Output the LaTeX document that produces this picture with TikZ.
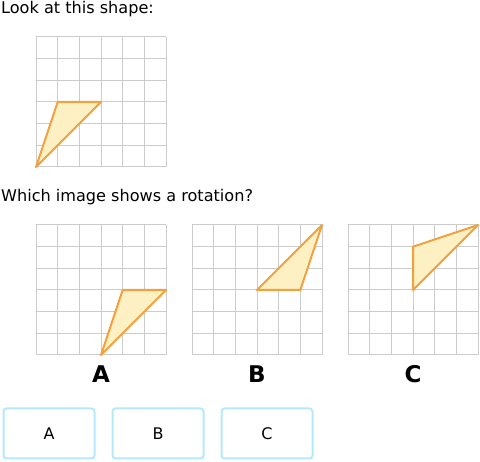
\documentclass[tikz,border=0pt]{standalone}
\usepackage{fontspec}
\setmainfont{DejaVu Sans}
\definecolor{gridgray}{HTML}{CCCCCC}
\definecolor{triedge}{HTML}{F5A03C}
\definecolor{trifill}{HTML}{FDF0C2}
\definecolor{btnblue}{HTML}{B3EAFB}
\tikzset{
  gridline/.style={draw=gridgray, line width=1pt},
  tri/.style={draw=triedge, fill=trifill, line width=2pt, line join=round},
  prompt/.style={anchor=base west, inner sep=0pt, font=\fontsize{16.1}{19}\selectfont},
  letter/.style={anchor=base, inner sep=0pt, font=\fontsize{23}{27}\bfseries\selectfont},
  btn/.style={draw=btnblue, line width=2pt, rounded corners=3pt, minimum width=91pt, minimum height=50pt, inner sep=0pt, font=\fontsize{16}{19}\selectfont}
}
\begin{document}
\begin{tikzpicture}[x=1pt,y=-1pt]
\useasboundingbox (0,0) rectangle (480,462);
\node[prompt] (q1) at (1,14) {Look at this shape:};
\node[prompt] (q2) at (1,202) {Which image shows a rotation?};
% grids: origin bottom-left (ox,oy), cell 130/6
\def\cell{21.6667}
\foreach \ox/\oy in {36/167, 36/355, 192/355, 348/355}{
  \foreach \i in {0,...,6}{
    \draw[gridline] (\ox+\i*\cell,\oy) -- (\ox+\i*\cell,\oy-130);
    \draw[gridline] (\ox,\oy-\i*\cell) -- (\ox+130,\oy-\i*\cell);
  }
}
% original
\draw[tri] (36,167) -- (36+\cell,167-3*\cell) -- (36+3*\cell,167-3*\cell) -- cycle;
% A
\draw[tri] (36+3*\cell,355) -- (36+4*\cell,355-3*\cell) -- (36+6*\cell,355-3*\cell) -- cycle;
% B
\draw[tri] (192+3*\cell,355-3*\cell) -- (192+5*\cell,355-3*\cell) -- (192+6*\cell,355-6*\cell) -- cycle;
% C
\draw[tri] (348+3*\cell,355-3*\cell) -- (348+3*\cell,355-5*\cell) -- (348+6*\cell,355-6*\cell) -- cycle;
\node[letter] (la) at (101,383) {A};
\node[letter] (lb) at (257,383) {B};
\node[letter] (lc) at (413,383) {C};
\node[btn] (ba) at (49,433.5) {A};
\node[btn] (bb) at (158,433.5) {B};
\node[btn] (bc) at (267,433.5) {C};
\end{tikzpicture}
\end{document}
